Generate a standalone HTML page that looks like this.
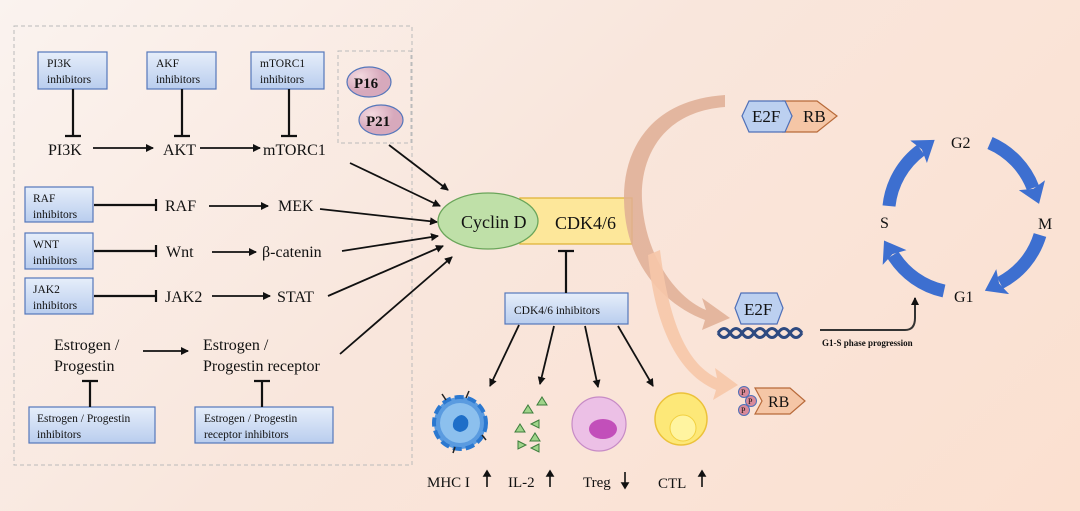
<!DOCTYPE html>
<html><head><meta charset="utf-8"><style>
body{margin:0;width:1080px;height:511px;overflow:hidden;background:linear-gradient(135deg,#faf3ef 0%,#f9e6dc 45%,#fbe0d0 100%);}
svg{display:block}
text{font-family:"Liberation Serif",serif;fill:#111}
</style></head><body>
<svg width="1080" height="511" viewBox="0 0 1080 511">
<defs>
<marker id="ah" markerWidth="8" markerHeight="8" refX="7" refY="4" orient="auto" markerUnits="userSpaceOnUse"><path d="M0,0 L8,4 L0,8 Z" fill="#111"/></marker>
<marker id="bh" markerWidth="22" markerHeight="28" refX="3" refY="14" orient="auto" markerUnits="userSpaceOnUse"><path d="M0,0 L20,14 L0,28 L4,14 Z" fill="#3d6fd0"/></marker>
<linearGradient id="bx" x1="0" y1="0" x2="0" y2="1"><stop offset="0" stop-color="#e6eefa"/><stop offset="1" stop-color="#b9cdee"/></linearGradient>
<radialGradient id="pg" cx="0.3" cy="0.3"><stop offset="0" stop-color="#f3d9e0"/><stop offset="1" stop-color="#d7a9bc"/></radialGradient>
</defs>
<g fill="none" stroke="#bbb" stroke-dasharray="4,3">
<rect x="14" y="26" width="398" height="439"/>
<rect x="338" y="51" width="73" height="92"/>
</g>
<g stroke="#5577bb" stroke-width="1.2" fill="url(#bx)">
<rect x="38" y="52" width="69" height="37"/><rect x="147" y="52" width="69" height="37"/><rect x="251" y="52" width="73" height="37"/>
<rect x="25" y="187" width="68" height="35"/><rect x="25" y="233" width="68" height="36"/><rect x="25" y="278" width="68" height="36"/>
<rect x="29" y="407" width="126" height="36"/><rect x="195" y="407" width="138" height="36"/>
<rect x="505" y="293" width="123" height="31"/>
</g>
<g font-size="11.5">
<text x="47" y="67">PI3K</text><text x="47" y="83">inhibitors</text>
<text x="156" y="67">AKF</text><text x="156" y="83">inhibitors</text>
<text x="260" y="67">mTORC1</text><text x="260" y="83">inhibitors</text>
<text x="33" y="202">RAF</text><text x="33" y="218">inhibitors</text>
<text x="33" y="248">WNT</text><text x="33" y="264">inhibitors</text>
<text x="33" y="293">JAK2</text><text x="33" y="309">inhibitors</text>
<text x="37" y="422">Estrogen / Progestin</text><text x="37" y="438">inhibitors</text>
<text x="204" y="422">Estrogen / Progestin</text><text x="204" y="438">receptor inhibitors</text>
<text x="514" y="314">CDK4/6 inhibitors</text>
</g>
<g stroke="#111" stroke-width="2.2" fill="none">
<path d="M73 89V136M65 136H81"/><path d="M182 89V136M174 136H190"/><path d="M289 89V136M281 136H297"/>
<path d="M94 205H156M156 199V211"/><path d="M94 251H156M156 245V257"/><path d="M94 296H156M156 290V302"/>
<path d="M90 407V381M82 381H98"/><path d="M262 407V381M254 381H270"/>
<path d="M566 293V251M558 251H574"/>
</g>
<g stroke="#111" stroke-width="1.8" fill="none" marker-end="url(#ah)">
<path d="M93 148H153"/><path d="M200 148H260"/>
<path d="M209 206H268"/><path d="M212 252H256"/><path d="M212 296H270"/><path d="M143 351H188"/>
<path d="M389 145L448 190"/><path d="M350 163L440 206"/><path d="M320 209L437 222"/>
<path d="M342 251L438 236"/><path d="M328 296L443 246"/><path d="M340 354L452 257"/>
<path d="M519 325L490 386"/><path d="M554 326L540 384"/><path d="M585 326L598 387"/><path d="M618 326L653 386"/>
</g>
<g font-size="16">
<text x="48" y="155">PI3K</text><text x="163" y="155">AKT</text><text x="263" y="155">mTORC1</text>
<text x="165" y="211">RAF</text><text x="278" y="211">MEK</text>
<text x="166" y="257">Wnt</text><text x="262" y="257">β-catenin</text>
<text x="165" y="302">JAK2</text><text x="277" y="302">STAT</text>
<text x="54" y="350">Estrogen /</text><text x="54" y="371">Progestin</text>
<text x="203" y="350">Estrogen /</text><text x="203" y="371">Progestin receptor</text>
</g>
<ellipse cx="369" cy="82" rx="22" ry="15" fill="url(#pg)" stroke="#5577bb" stroke-width="1.2"/>
<ellipse cx="381" cy="120" rx="22" ry="15" fill="url(#pg)" stroke="#5577bb" stroke-width="1.2"/>
<text x="354" y="88" font-size="15" font-weight="bold">P16</text>
<text x="366" y="126" font-size="15" font-weight="bold">P21</text>
<rect x="520" y="198" width="112" height="46" fill="#fde79a" stroke="#e0b53a" stroke-width="1.3"/>
<ellipse cx="488" cy="221" rx="50" ry="28" fill="#bfe0a8" stroke="#6aa55a" stroke-width="1.3"/>
<text x="461" y="228" font-size="18">Cyclin D</text>
<text x="555" y="229" font-size="18">CDK4/6</text>
<g>
<circle cx="460" cy="423" r="26" fill="#5a9be0" stroke="#2b78d0" stroke-width="4" stroke-dasharray="9,4"/>
<circle cx="460" cy="423" r="20" fill="#8cc0ee"/>
<path d="M454 420q8-10 14 0q2 10-8 12q-10-2-6-12z" fill="#1e6ec8"/>
<g stroke="#222" stroke-width="1.5" fill="none"><path d="M446 400l-4-6M466 398l3-7M482 435l4 5M455 447l-2 6"/></g>
</g>
<g fill="#9fd48a" stroke="#3d7d3c" stroke-width="1"><path d="M542 397l5 8h-10z"/><path d="M528 405l5 8h-10z"/><path d="M520 424l5 8h-10z"/><path d="M539 420l-8 4 8 4z"/><path d="M535 433l5 8h-10z"/><path d="M518 441l8 4-8 4z"/><path d="M539 444l-8 4 8 4z"/></g>
<circle cx="599" cy="424" r="27" fill="#ecc0e6" stroke="#c78bc6" stroke-width="1.2"/>
<ellipse cx="603" cy="429" rx="14" ry="10" fill="#c24fba"/>
<circle cx="681" cy="419" r="26" fill="#fde878" stroke="#ecc23a" stroke-width="1.5"/>
<circle cx="683" cy="428" r="13" fill="#fff4a0" stroke="#f2d040"/>
<g font-size="15"><text x="427" y="487">MHC I</text><text x="508" y="487">IL-2</text><text x="583" y="487">Treg</text><text x="658" y="488">CTL</text></g>
<g stroke="#111" stroke-width="1.6" fill="#111"><path d="M487 487V472"/><path d="M484 476l3-5 3 5z"/><path d="M550 487V472"/><path d="M547 476l3-5 3 5z"/><path d="M625 472V487"/><path d="M622 483l3 5 3-5z"/><path d="M702 487V472"/><path d="M699 476l3-5 3 5z"/></g>
<path d="M725 107C660 112 640 160 642 200C645 260 680 300 706 310L702 298L730 318L702 330L705 320C665 305 625 265 624 200C623 150 650 100 725 95Z" fill="#dfae94" opacity="0.85"/>
<path d="M660 250C670 330 690 365 717 378L715 368L738 385L713 400L716 390C680 375 655 330 648 255Z" fill="#f6c6a8" opacity="0.9"/>
<path d="M783 101H817L837 116L817 132H783L792 116Z" fill="#f5c6a6" stroke="#b86a3a" stroke-width="1.2"/>
<path d="M749 101H785L792 116L785 132H749L742 116Z" fill="#bcd0f0" stroke="#4f70b8" stroke-width="1.2"/>
<text x="752" y="122" font-size="17">E2F</text><text x="803" y="122" font-size="17">RB</text>
<path d="M741 293H777L783 308L777 324H741L735 308Z" fill="#bcd0f0" stroke="#4f70b8" stroke-width="1.2"/>
<text x="744" y="315" font-size="17">E2F</text>
<g stroke="#2e4a80" stroke-width="3" fill="none"><path d="M718 333q6-9 12 0t12 0t12 0t12 0t12 0t12 0t12 0"/><path d="M718 333q6 9 12 0t12 0t12 0t12 0t12 0t12 0t12 0"/></g>
<path d="M820 330H905Q915 330 915 318V298" stroke="#333" stroke-width="2" fill="none" marker-end="url(#ah)"/>
<text x="822" y="346" font-size="9" font-weight="bold">G1-S phase progression</text>
<path d="M755 388H790L805 401L790 414H755L762 401Z" fill="#f5c6a6" stroke="#b86a3a" stroke-width="1.2"/>
<g fill="#d98a9a" stroke="#4f70b8" stroke-width="1"><circle cx="744" cy="392" r="5.5"/><circle cx="751" cy="401" r="5.5"/><circle cx="744" cy="410" r="5.5"/></g>
<g font-size="8"><text x="741" y="395">P</text><text x="748" y="404">P</text><text x="741" y="413">P</text></g>
<text x="768" y="407" font-size="16">RB</text>
<g fill="none" stroke="#3d6fd0" stroke-width="13" marker-end="url(#bh)">
<path d="M889 206A80 80 0 0 1 921 150"/>
<path d="M990 143A80 80 0 0 1 1033 188"/>
<path d="M1040 235A80 80 0 0 1 1000 283"/>
<path d="M944 291A80 80 0 0 1 893 255"/>
</g>
<g font-size="16"><text x="951" y="148">G2</text><text x="1038" y="229">M</text><text x="954" y="302">G1</text><text x="880" y="228">S</text></g>
</svg>
</body></html>
